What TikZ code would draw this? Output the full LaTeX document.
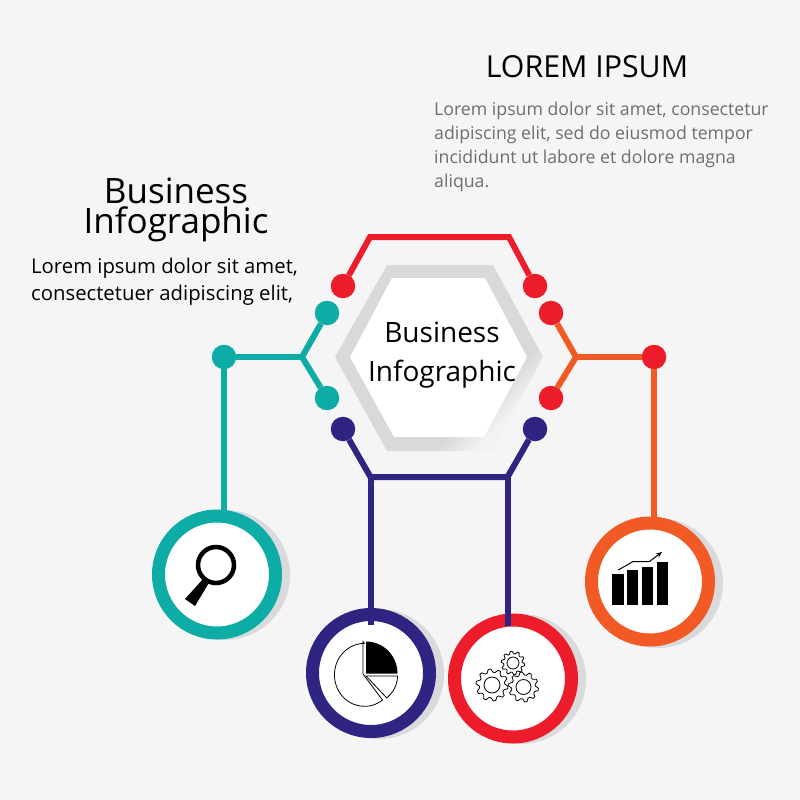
\documentclass[tikz,border=0pt]{standalone}
\usepackage{fontspec}
\usetikzlibrary{arrows.meta}
\setmainfont{Open Sans}
\definecolor{bg}{HTML}{F5F5F6}
\definecolor{cred}{HTML}{ED1C2A}
\definecolor{cteal}{HTML}{0DACA6}
\definecolor{cblue}{HTML}{2E2482}
\definecolor{corange}{HTML}{F15A24}
\definecolor{cshadow}{HTML}{D9DADC}
\definecolor{hexgray}{HTML}{D9D9D9}
\definecolor{hexlight}{HTML}{F2F2F2}
\definecolor{bodygray}{HTML}{6D6E71}
\pgfdeclarehorizontalshading{hexfade}{100bp}{color(0bp)=(hexgray); color(66bp)=(hexgray); color(73bp)=(hexlight); color(100bp)=(hexlight)}
\tikzset{
  dot/.style={circle,fill=#1,draw=none,minimum size=24.5pt,inner sep=0pt,outer sep=0pt},
  ring/.style={circle,draw=#1,line width=13pt,fill=white,minimum size=117pt,inner sep=0pt},
  ringshadow/.style={circle,fill=cshadow,draw=none,minimum size=130pt,inner sep=0pt},
  wire/.style={draw=#1,line width=6pt,line join=miter},
  iconline/.style={draw=black,line width=0.8pt,fill=white},
  hextext/.style={font=\fontsize{28}{39}\selectfont,align=center,inner sep=0pt,text=black},
  titletext/.style={font=\fontsize{35}{30}\selectfont,align=center,inner sep=0pt,text=black},
  bodytext/.style={font=\fontsize{17.7}{24}\selectfont,align=left,inner sep=0pt,anchor=north west,text=bodygray},
  sidetext/.style={font=\fontsize{20.3}{27}\selectfont,align=left,inner sep=0pt,anchor=north west,text=black},
}
\newcommand{\gearshape}[5]{% x, y, outer, root, hole
  \draw[iconline,shift={(#1,#2)}] plot[samples at={0,...,39},variable=\t]
     ({\t*9+4.5}:{mod(\t,4)<2?#3:#4}) -- cycle;
  \draw[iconline,shift={(#1,#2)}] (0,0) circle (#5);
}
\begin{document}
\begin{tikzpicture}[x=1pt,y=-1pt]
\useasboundingbox (0,0) rectangle (800,800);
\fill[bg] (0,0) rectangle (800,800);

% central hexagon
\shade[shading=hexfade,shading angle=-45]
  (387,265) -- (493,265) -- (543,357) -- (493,451) -- (387,451) -- (335,357) -- cycle;
\fill[white] (392,278) -- (485,278) -- (527,357) -- (484,437) -- (394,437) -- (350,357) -- cycle;
\node[hextext] (hexlabel) at (442,355) {Business\\Infographic};

% rings with shadows
\node[ringshadow] at (225,575) {};
\node[ringshadow] at (379,674) {};
\node[ringshadow] at (521,679) {};
\node[ringshadow] at (658,583) {};
\node[ring=cteal] (ringteal) at (217,574.5) {};
\node[ring=cblue] (ringblue) at (371,673) {};
\node[ring=cred] (ringred) at (513,678.5) {};
\node[ring=corange] (ringorange) at (650,581.5) {};

% dots
\node[dot=cred] (redL) at (343,286) {};
\node[dot=cred] (redR) at (535,286) {};
\node[dot=cteal] (tealU) at (327,313) {};
\node[dot=cteal] (tealD) at (327,398) {};
\node[dot=cteal] (tealEnd) at (224,357) {};
\node[dot=cred] (orU) at (551,313) {};
\node[dot=cred] (orD) at (551,398) {};
\node[dot=cred] (orEnd) at (654,357) {};
\node[dot=cblue] (blueL) at (343,429) {};
\node[dot=cblue] (blueR) at (535,429) {};
\coordinate (redTL) at (370,237);
\coordinate (redTR) at (509,237);
\coordinate (tealJ) at (302,357);
\coordinate (orJ) at (576,357);
\coordinate (blueBL) at (370.5,477);
\coordinate (blueBR) at (507.5,477);

% connectors
\draw[wire=cred] (redL) -- (redTL) -- (redTR) -- (redR);
\draw[wire=cteal] (tealU) -- (tealJ) -- (tealD);
\draw[wire=cteal] (tealJ) -- (tealEnd);
\draw[wire=cteal] (tealEnd) -- (tealEnd |- ringteal.north);
\draw[wire=corange] (orU) -- (orJ) -- (orD);
\draw[wire=corange] (orJ) -- (orEnd);
\draw[wire=corange] (orEnd) -- (orEnd |- ringorange.north);
\draw[wire=cblue] (blueL) -- (blueBL) -- (blueBR) -- (blueR);
\draw[wire=cblue,shorten >=-17pt] (blueBL) -- (blueBL |- ringblue.north);
\draw[wire=cblue,shorten >=-12pt] (blueBR) -- (blueBR |- ringred.north);

% magnifier
\draw[black,line width=4.5pt] (216,565) circle (18);
\fill[black] (185,599) -- (195,606) -- (208.5,583.5) -- (203,579) -- cycle;

% pie chart
\draw[black,line width=0.8pt,fill=white] (363,641.5) -- (363,674) -- (382.5,700) arc (53:270:30 and 31.5) -- cycle;
\fill[black] (366,641.5) -- (366,673.5) -- (397.5,673.5) arc (0:-90:31.5 and 32) -- cycle;
\draw[black,line width=0.8pt,fill=white] (366,676) -- (397.5,676) arc (0:49:31.5 and 29) -- cycle;

% gears
\gearshape{513}{663}{11.8}{9.3}{6}
\gearshape{492}{685}{16}{12.8}{8}
\gearshape{523.5}{687}{15}{12}{7.5}

% bar chart
\fill[black] (612.3,574.3) rectangle (623.7,605);
\fill[black] (627,570.3) rectangle (638.3,605);
\fill[black] (641.7,567) rectangle (653.3,605);
\fill[black] (656.7,562) rectangle (668.3,605);
\draw[black,line width=1pt,-{Stealth[length=6pt,width=5pt]}] (618.3,570) -- (632.7,561.7) -- (649.3,561.7) -- (662,552);

% texts
\node[font=\fontsize{30.3}{32}\selectfont,inner sep=0pt,text=black] (head) at (587,67) {LOREM IPSUM};
\node[bodytext] (para) at (434,102) {Lorem ipsum dolor sit amet, consectetur\\adipiscing elit, sed do eiusmod tempor\\incididunt ut labore et dolore magna\\aliqua.};
\node[titletext] (title) at (176,210) {Business\\Infographic};
\node[sidetext] (side) at (31,258) {Lorem ipsum dolor sit amet,\\consectetuer adipiscing elit,};
\end{tikzpicture}
\end{document}
